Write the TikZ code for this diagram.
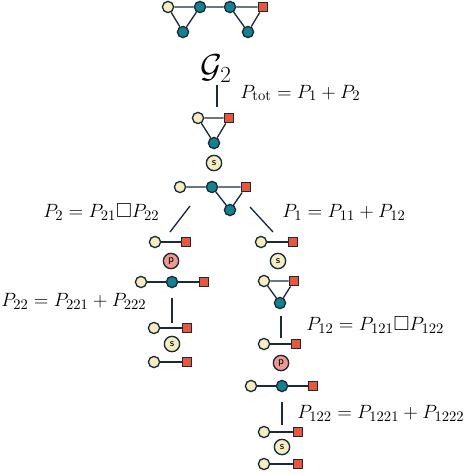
\documentclass[tikz,border=0pt]{standalone}
\usepackage{amssymb}
\definecolor{edgec}{HTML}{1B2A3A}
\definecolor{yelc}{HTML}{F3EDC0}
\definecolor{tealc}{HTML}{12828F}
\definecolor{redc}{HTML}{E8573C}
\definecolor{pinkc}{HTML}{EE9A8C}
\begin{document}
\begin{tikzpicture}[x=0.75pt,y=-0.75pt,
  vy/.style={circle,draw=edgec,fill=yelc,line width=1pt,minimum size=8.4pt,inner sep=0pt},
  vt/.style={vy,fill=tealc},
  vr/.style={rectangle,draw=edgec,fill=redc,line width=1pt,minimum size=7.2pt,inner sep=0pt},
  op/.style={circle,draw=edgec,fill=yelc,line width=1pt,minimum size=11.5pt,inner sep=0pt,font=\sffamily\fontsize{8}{9}\selectfont},
  opp/.style={op,fill=pinkc},
  ed/.style={draw=edgec,line width=1pt},
  br/.style={draw=edgec,line width=1pt},
  lab/.style={anchor=west,inner sep=0pt,font=\fontsize{15.3}{18}\selectfont}]
\useasboundingbox (0,0) rectangle (474,474);

% top graph
\node[vy] (a1) at (168,7) {};
\node[vt] (a2) at (200,7) {};
\node[vt] (a3) at (183,32) {};
\node[vt] (a4) at (230,7) {};
\node[vr] (a5) at (263,7) {};
\node[vt] (a6) at (248,32) {};
\draw[ed] (a1)--(a2) (a1)--(a3) (a2)--(a3) (a2)--(a4) (a4)--(a5) (a4)--(a6) (a5)--(a6);

\node[inner sep=0pt,font=\fontsize{25}{29}\selectfont] (g2) at (216,69) {$\mathcal{G}_2$};
\coordinate (l0a) at (217,85);
\coordinate (l0b) at (217,107);
\draw[br] (l0a)--(l0b);
\node[lab] (ptot) at (240,93) {$P_{\mathrm{tot}}=P_1+P_2$};

% second graph
\node[vy] (b1) at (198,118) {};
\node[vr] (b2) at (229,118) {};
\node[vt] (b3) at (214,143) {};
\draw[ed] (b1)--(b2) (b1)--(b3) (b2)--(b3);
\node[op] (s1) at (214,163) {s};

% third graph
\node[vy] (c1) at (180,187) {};
\node[vt] (c2) at (212,187) {};
\node[vr] (c3) at (246,187) {};
\node[vt] (c4) at (230,210) {};
\draw[ed] (c1)--(c2) (c2)--(c3) (c2)--(c4) (c3)--(c4);

\coordinate (l1a) at (190,206);
\coordinate (l1b) at (170,232);
\coordinate (l2a) at (250,207);
\coordinate (l2b) at (273,232);
\draw[br] (l1a)--(l1b) (l2a)--(l2b);
\node[lab] (p2) at (43,212) {$P_2=P_{21}\square P_{22}$};
\node[lab] (p1) at (282,212) {$P_1=P_{11}+P_{12}$};

% left branch
\node[vy] (d1) at (155,242) {};
\node[vr] (d2) at (186,242) {};
\draw[ed] (d1)--(d2);
\node[opp] (pp1) at (171,261) {p};
\node[vy] (e1) at (141,282) {};
\node[vt] (e2) at (172,282) {};
\node[vr] (e3) at (204,282) {};
\draw[ed] (e1)--(e2) (e2)--(e3);
\coordinate (l3a) at (172,298);
\coordinate (l3b) at (172,323);
\draw[br] (l3a)--(l3b);
\node[lab] (p22) at (1,301) {$P_{22}=P_{221}+P_{222}$};
\node[vy] (f1) at (154,328) {};
\node[vr] (f2) at (187,328) {};
\draw[ed] (f1)--(f2);
\node[op] (s2) at (172,344) {s};
\node[vy] (h1) at (154,362) {};
\node[vr] (h2) at (187,362) {};
\draw[ed] (h1)--(h2);

% right branch
\node[vy] (i1) at (261,242) {};
\node[vr] (i2) at (293,242) {};
\draw[ed] (i1)--(i2);
\node[op] (s3) at (278,261) {s};
\node[vy] (j1) at (264,281) {};
\node[vr] (j2) at (294,281) {};
\node[vt] (j3) at (280,303) {};
\draw[ed] (j1)--(j2) (j1)--(j3) (j2)--(j3);
\coordinate (l4a) at (281,316);
\coordinate (l4b) at (281,338);
\draw[br] (l4a)--(l4b);
\node[lab] (p12) at (306,325) {$P_{12}=P_{121}\square P_{122}$};
\node[vy] (k1) at (264,344) {};
\node[vr] (k2) at (296,344) {};
\draw[ed] (k1)--(k2);
\node[opp] (pp2) at (281,363) {p};
\node[vy] (m1) at (251,386) {};
\node[vt] (m2) at (282,386) {};
\node[vr] (m3) at (313,386) {};
\draw[ed] (m1)--(m2) (m2)--(m3);
\coordinate (l5a) at (282,402);
\coordinate (l5b) at (282,425);
\draw[br] (l5a)--(l5b);
\node[lab] (p122) at (297,413) {$P_{122}=P_{1221}+P_{1222}$};
\node[vy] (n1) at (264,432) {};
\node[vr] (n2) at (298,432) {};
\draw[ed] (n1)--(n2);
\node[op] (s4) at (282,447) {s};
\node[vy] (o1) at (264,464) {};
\node[vr] (o2) at (298,464) {};
\draw[ed] (o1)--(o2);
\end{tikzpicture}
\end{document}
